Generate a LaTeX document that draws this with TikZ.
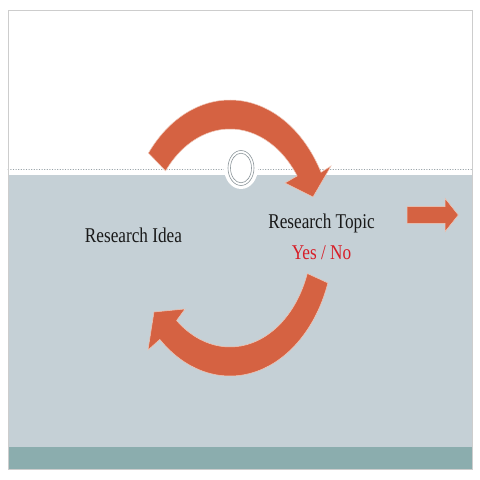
\documentclass[tikz,border=0pt]{standalone}
\usepackage{fontspec}
\newfontfamily\slidefont[FakeStretch=0.82]{Liberation Serif}
\usepackage{tikz}

\begin{document}
\begin{tikzpicture}
		[x=1pt,y=1pt,line cap=round,
		%Styles
		slide frame/.style={draw=framegray,line width=0.7pt},
		arrow shape/.style={fill=arroworange,draw=arrowedge,line width=0.5pt,line join=miter},
		ring/.style={draw=ringgray,line width=0.6pt},
		slide text/.style={font=\slidefont\fontsize{21}{25}\selectfont,inner sep=0pt,anchor=base,text=textblack}
		]
		
		%Colors
		\definecolor{framegray}{RGB}{205,205,205}
		\definecolor{panelgray}{RGB}{197,208,214}
		\definecolor{bandteal}{RGB}{139,173,174}
		\definecolor{arroworange}{RGB}{213,98,66}
		\definecolor{arrowedge}{RGB}{240,200,185}
		\definecolor{ringgray}{RGB}{140,150,155}
		\definecolor{dotgray}{RGB}{150,160,165}
		\definecolor{textblack}{RGB}{25,25,25}
		\definecolor{answerred}{RGB}{215,30,40}
		
		%The graphic
		\useasboundingbox (0,0) rectangle (480,480);
		\fill[white] (0,0) rectangle (480,480);
		\fill[panelgray] (8,33) rectangle (472,305);
		\fill[bandteal] (8,11) rectangle (472,33);
		\draw[dotgray, dotted, line width=0.6pt] (8,311) -- (472,311);
		\draw[slide frame] (8,11) rectangle (472,470);
		
		\fill[white] (241,312) ellipse [x radius=17, y radius=21];
		\draw[ring] (241,312) ellipse [x radius=13, y radius=17.5];
		\draw[ring] (241,312) ellipse [x radius=10.5, y radius=14.8];
		
		\coordinate (loop centre) at (230,242);
		
		\draw[arrow shape] ([shift={(loop centre)}]142:103.5 and 138)
			arc[start angle=142, end angle=28.4, x radius=103.5, y radius=138]
			-- (331,314) -- (313,283) -- (285,297)
			-- ([shift={(loop centre)}]34.7:81.75 and 109)
			arc[start angle=34.7, end angle=142, x radius=81.75, y radius=109] -- cycle;
		
		\draw[arrow shape] ([shift={(loop centre)}]-19:103.5 and 138)
			arc[start angle=-19, end angle=-132.7, x radius=103.5, y radius=138]
			-- (148,130) -- (154,168) -- (185,171)
			-- ([shift={(loop centre)}]-130.8:81.75 and 109)
			arc[start angle=-130.8, end angle=-19, x radius=81.75, y radius=109] -- cycle;
		
		\draw[arrow shape] (407,273.3) -- (445,273.3) -- (445,281.7) -- (458.3,265)
			-- (445,248.3) -- (445,256.7) -- (407,256.7) -- cycle;
		
		\node[slide text] (idea) at (133.5,237) {Research Idea};
		\node[slide text] (topic) at (321.5,251) {Research Topic};
		\node[slide text,text=answerred] (answer) at (321.5,220) {Yes / No};
	\end{tikzpicture}
\end{document}
